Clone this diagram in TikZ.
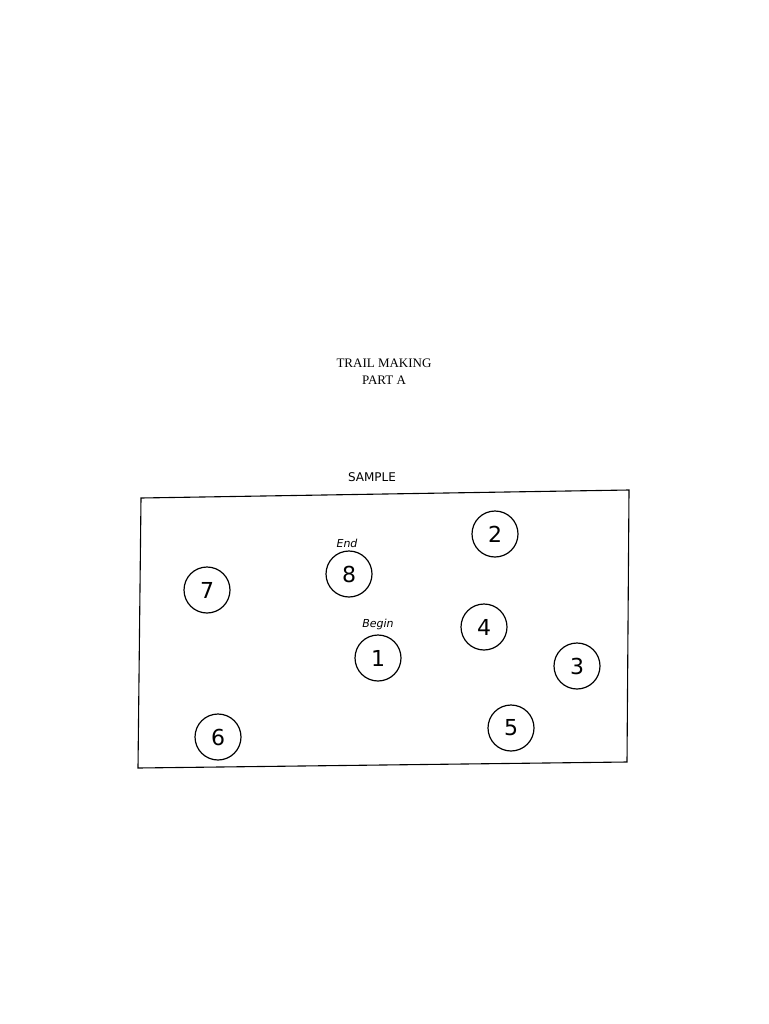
\documentclass[tikz,border=0pt]{standalone}
\usepackage{fontspec}
\setmainfont{Liberation Serif}
\newfontfamily\hand{DejaVu Sans}
\begin{document}
\begin{tikzpicture}[x=1pt,y=-1pt,
  dot/.style={circle,draw,line width=1.2pt,minimum size=46pt,inner sep=0pt,font=\hand\fontsize{22}{22}\selectfont},
  lbl/.style={font=\hand\itshape\fontsize{11}{11}\selectfont}]
\useasboundingbox (0,0) rectangle (768,1024);
\node[font=\fontsize{13}{13}\selectfont] (t1) at (384,363) {TRAIL MAKING};
\node[font=\fontsize{13}{13}\selectfont] (t2) at (384,380) {PART A};
\node[font=\hand\fontsize{12}{12}\selectfont] (s) at (372,477) {SAMPLE};
\draw[line width=1.1pt] (141,498) -- (629,490) -- (627,762) -- (138,768) -- cycle;
\node[dot] (n2) at (495,534) {2};
\node[dot] (n8) at (349,574) {8};
\node[dot] (n7) at (207,590) {7};
\node[dot] (n4) at (484,627) {4};
\node[dot] (n1) at (378,658) {1};
\node[dot] (n3) at (577,666) {3};
\node[dot] (n5) at (511,728) {5};
\node[dot] (n6) at (218,737) {6};
\node[lbl] (e) at (347,543) {End};
\node[lbl] (b) at (378,624) {Begin};
\end{tikzpicture}
\end{document}
